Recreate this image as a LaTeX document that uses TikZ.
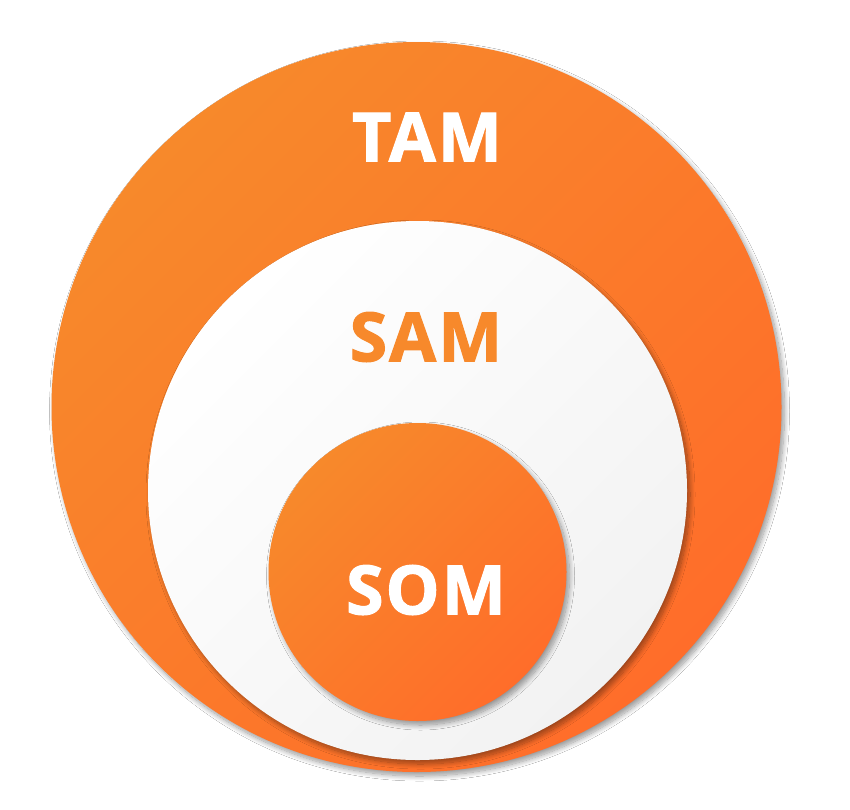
\documentclass[tikz,border=0pt]{standalone}
\usepackage{fontspec}
\setmainfont{Open Sans}
\newfontfamily\lblfont[FakeBold=1.6, LetterSpace=3]{Open Sans Bold}
\usetikzlibrary{shadows.blur}
\definecolor{orA}{HTML}{F7892B}
\definecolor{orB}{HTML}{FF6D2A}
\definecolor{wA}{HTML}{FFFFFF}
\definecolor{wB}{HTML}{F2F2F2}
\tikzset{
  disc/.style={blur shadow={shadow xshift=3pt, shadow yshift=-4pt, shadow blur radius=5pt, shadow blur steps=12, shadow opacity=40}},
  orfill/.style={top color=orA, bottom color=orB, shading angle=45},
  wfill/.style={top color=wA, bottom color=wB, shading angle=45},
  lbl/.style={font=\fontsize{68}{68}\selectfont\lblfont, inner sep=0pt}
}
\begin{document}
\begin{tikzpicture}[x=1pt,y=-1pt]
\useasboundingbox[fill=white] (0,0) rectangle (850,809);
\path[disc, orfill] (416.5,407) circle[radius=365];
\path[disc, wfill] (417.5,490.5) circle[radius=269.5];
\path[disc, orfill] (417.5,572) circle[radius=149];
\node[lbl, text=white] (tam) at (427,137) {TAM};
\node[lbl, text=orA] (sam) at (426,337) {SAM};
\node[lbl, text=white] (som) at (426,590) {SOM};
\end{tikzpicture}
\end{document}
